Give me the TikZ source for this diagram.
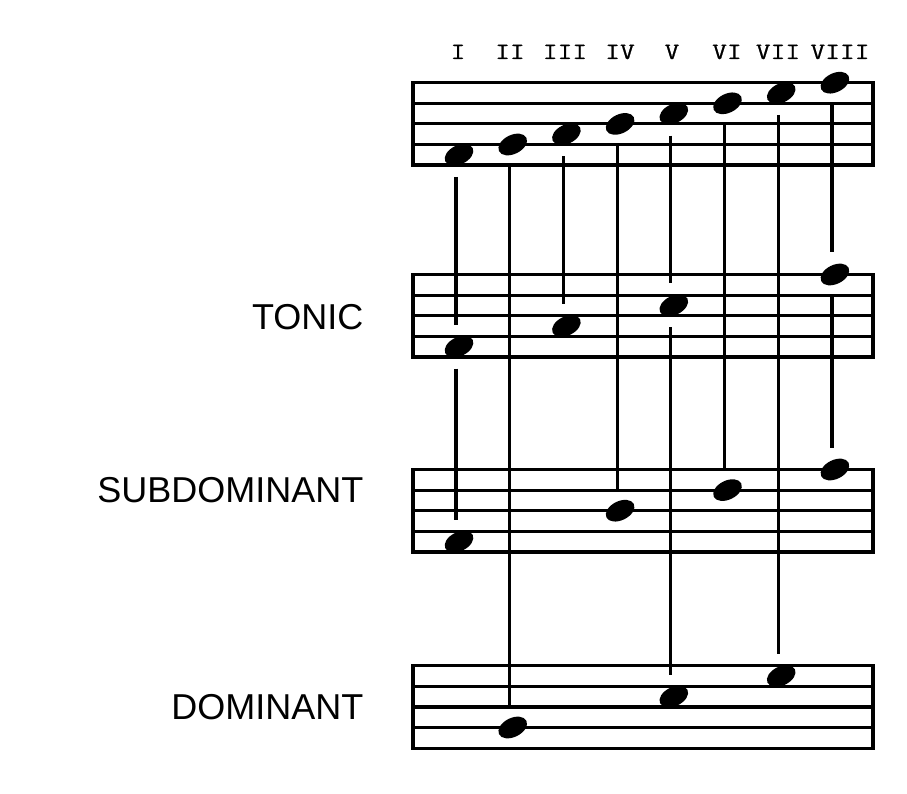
\documentclass[tikz,border=0pt]{standalone}
\usepackage{fontspec}
\setmainfont{Liberation Sans}
\newfontfamily\numfont[FakeStretch=1.22, FakeBold=0.6]{Latin Modern Mono}
\usetikzlibrary{shapes.geometric}
\tikzset{note/.style={ellipse, fill, rotate=26, inner sep=0pt,
  minimum width=30.5pt, minimum height=19pt}}
\tikzset{tie/.style={shorten <=22pt, shorten >=22pt}}
\tikzset{label/.style={anchor=base east, inner sep=0pt, font=\fontsize{36}{40}\selectfont}}
\tikzset{numeral/.style={anchor=base, inner sep=0pt, font=\numfont\fontsize{23.5}{28}\selectfont}}
\newcommand{\staff}[1]{
	\draw (413, #1) rectangle (873, #1+82.4);
	\foreach \l in {1,2,3}\draw (413, #1+20.6*\l)--(873, #1+20.6*\l);
}
\newcommand{\putnote}[4]{
	\node[note] (#1) at ({459+53.7*(#3-1)}, {#2+82.4-10.3*(#4+1)}) {};
}

\begin{document}
\begin{tikzpicture}[x=1pt, y=-1pt, line width=3.2pt]
    \useasboundingbox (0, 0) rectangle (907, 794);
    \staff{82.7}
    \staff{274.5}
    \staff{469.5}
    \staff{665.7}
    \foreach \x/\r in {458/I, 510/II, 565/III, 620/IV, 672/V, 727/VI, 778/VII, 840/VIII}
        \node[numeral] (n\r) at (\x, 59) {\r};
    \node[label] (tonic) at (365, 329) {TONIC};
    \node[label] (subdom) at (365, 502.3) {SUBDOMINANT};
    \node[label] (dom) at (365, 719) {DOMINANT};
    % scale
    \foreach \c in {1,...,8}{\putnote{a\c}{82.7}{\c}{\c-1}}
    % chords
    \putnote{t1}{274.5}{1}{0}
    \putnote{t3}{274.5}{3}{2}
    \putnote{t5}{274.5}{5}{4}
    \putnote{t8}{274.5}{8}{7}
    \putnote{s1}{469.5}{1}{0}
    \putnote{s4}{469.5}{4}{3}
    \putnote{s6}{469.5}{6}{5}
    \putnote{s8}{469.5}{8}{7}
    \putnote{d2}{665.7}{2}{1}
    \putnote{d5}{665.7}{5}{4}
    \putnote{d7}{665.7}{7}{6}
    \foreach \p/\q in {a1/t1, t1/s1, a2/d2, a3/t3, a4/s4, a5/t5, t5/d5, a6/s6, a7/d7, a8/t8, t8/s8}
        \draw[tie] ([xshift=-3pt]\p.center)--([xshift=-3pt]\q.center);
\end{tikzpicture}
\end{document}
